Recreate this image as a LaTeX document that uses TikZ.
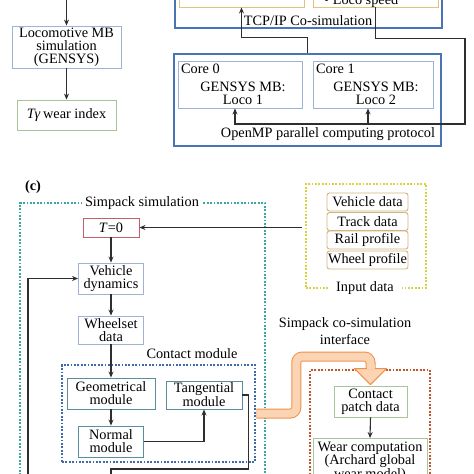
\documentclass[tikz,border=0pt]{standalone}
\usepackage{fontspec}
\setmainfont{Liberation Serif}
\usetikzlibrary{arrows.meta}

\definecolor{softblue}{HTML}{9FB3D6}
\definecolor{softgreen}{HTML}{A8C49A}
\definecolor{tcpblue}{HTML}{4A74B5}
\definecolor{sand}{HTML}{E2C27E}
\definecolor{rosered}{HTML}{C2606A}
\definecolor{tealblue}{HTML}{5B8E9C}
\definecolor{simteal}{HTML}{3AA7A3}
\definecolor{contblue}{HTML}{3E6AAB}
\definecolor{inyellow}{HTML}{D6D33E}
\definecolor{tanbox}{HTML}{D1B57E}
\definecolor{wearred}{HTML}{C0552D}
\definecolor{bandedge}{HTML}{F0904A}
\definecolor{bandfill}{HTML}{FBD4B4}
\definecolor{linkgray}{HTML}{2E2E2E}

\begin{document}
\begin{tikzpicture}[x=1pt, y=-1pt, >={Stealth[length=6pt,width=5pt]},
    txt/.style={font=\fontsize{14.3}{13}\selectfont, inner sep=0pt, align=center},
    box/.style={txt, draw=#1, line width=0.9pt, fill=white},
    dotbox/.style={draw=#1, line width=2.6pt, dash pattern=on 1.8pt off 1.6pt, inner sep=0pt},
    solidbox/.style={draw=tcpblue, line width=1.4pt, inner sep=0pt},
    link/.style={draw=linkgray, line width=1.1pt},
    band/.style={draw=bandedge, double=bandfill, double distance=8pt, line width=1pt, rounded corners=6pt}]
    \useasboundingbox (0,0) rectangle (474,474);
    \clip (0,0) rectangle (474,474);

    % Locomotive simulation
    \coordinate (locoIn) at (66.5,0);
    \node[box=softblue, minimum width=109, minimum height=42] (loco) at (66.5,47) {Locomotive MB\\simulation\\(GENSYS)};
    \node[box=softgreen, minimum width=99, minimum height=30] (twear) at (66.5,115) {\textit{Tγ}\,wear index};
    \draw[link,->] (locoIn) -- (loco.north);
    \draw[link,->] (loco.south) -- (twear.north);

    % TCP/IP co-simulation
    \node[solidbox, minimum width=267, minimum height=68] (tcp) at (308.5,-6) {};
    \node[box=sand, minimum width=125, minimum height=38] (ybox1) at (241.5,-12) {};
    \node[box=sand, minimum width=125, minimum height=38] (ybox2) at (375.5,-12) {};
    \node[txt, anchor=base west] (speed) at (324,4) {\textbullet\ Loco speed};
    \node[txt, anchor=base] (tcplbl) at (308,25) {TCP/IP Co-simulation};

    % OpenMP cores
    \node[solidbox, minimum width=267, minimum height=92] (omp) at (307.5,100) {};
    \node[box=softblue, minimum width=124, minimum height=47] (core0) at (240,84.5) {};
    \node[box=softblue, minimum width=120, minimum height=47] (core1) at (373,84.5) {};
    \node[txt, anchor=base west] (core0lbl) at (181,73) {Core 0};
    \node[txt, anchor=base west] (core1lbl) at (316,73) {Core 1};
    \node[txt] (core0txt) at (243,93) {GENSYS MB:\\Loco 1};
    \node[txt] (core1txt) at (376,93) {GENSYS MB:\\Loco 2};
    \node[txt, anchor=base] (omplbl) at (328,137) {OpenMP parallel computing protocol};

    \coordinate (bus) at (465,124);
    \coordinate (c0in) at ([xshift=-5pt]core0.south);
    \coordinate (c1in) at ([xshift=-5pt]core1.south);
    \draw[link,->] (omp.north) -- ++(0,-16) -| (ybox1.south);
    \draw[link,->] (ybox2.south) -- ++(0,31) -| (bus) -| (c0in);
    \draw[link,->] (c1in |- bus) -- (c1in);

    % (c) Simpack simulation
    \node[txt, font=\fontsize{14.3}{13}\selectfont\bfseries] (tagc) at (33,187) {(c)};
    \node[dotbox=simteal, minimum width=245, minimum height=297] (simbox) at (142.5,351.5) {};
    \node[txt, fill=white, inner xsep=3pt, inner ysep=1pt] (simlbl) at (142,203) {Simpack simulation};
    \node[box=rosered, minimum width=56, minimum height=19] (t0) at (111,227.5) {\textit{T}=0};
    \node[box=softblue, minimum width=65, minimum height=31] (vdyn) at (111,278.5) {Vehicle\\dynamics};
    \node[box=softblue, minimum width=65, minimum height=28] (wdata) at (111,330) {Wheelset\\data};

    % Contact module
    \node[dotbox=contblue, minimum width=193, minimum height=97] (cbox) at (158.5,413.5) {};
    \node[txt] (cboxlbl) at (192,354) {Contact module};
    \node[box=tealblue, minimum width=88, minimum height=31] (geo) at (111,393.5) {Geometrical\\module};
    \node[box=tealblue, minimum width=76, minimum height=28] (tang) at (204,395) {Tangential\\module};
    \node[box=tealblue, minimum width=65, minimum height=31] (norm) at (111,441.5) {Normal\\module};

    % Input data
    \node[dotbox=inyellow, minimum width=120, minimum height=104] (inbox) at (366,236) {};
    \node[txt, fill=white, inner xsep=8pt, inner ysep=1pt] (inlbl) at (365,288) {Input data};
    \foreach \name/\y/\label in {vehdata/202/Vehicle data, trackdata/221.5/Track data, railprof/240/Rail profile, wheelprof/260/Wheel profile}
        \node[box=tanbox, rounded corners=2.5pt, minimum width=81, minimum height=18] (\name) at (367.5,\y) {\label};

    % Wear computation
    \node[dotbox=wearred, minimum width=120, minimum height=130] (wbox) at (370,435) {};
    \node[box=softgreen, minimum width=73, minimum height=31] (cpatch) at (370.5,401.5) {Contact\\patch data};
    \node[box=softgreen, minimum width=114, minimum height=47] (wear) at (370,462) {Wear computation\\(Archard global\\wear model)};
    \node[txt, font=\fontsize{14.3}{17}\selectfont] (cosimlbl) at (345,331) {Simpack co-simulation\\interface};

    % Connectors
    \coordinate (inlink) at (302,227.5);
    \coordinate (loopBend) at (111,469);
    \coordinate (loopOut) at (111,480);
    \coordinate (loopIn) at (28,480);
    \draw[link,->] (inlink) -- (t0.east);
    \draw[link,->] (t0.south) -- (vdyn.north);
    \draw[link,->] (vdyn.south) -- (wdata.north);
    \draw[link,->] (wdata.south) -- (geo.north);
    \draw[link,->] (geo.south) -- (norm.north);
    \draw[link,->] (norm.east) -| (tang.south);
    \draw[link] (tang.east) -- ++(6,0) |- (loopBend) -- (loopOut);
    \draw[link,->] (loopIn) |- (vdyn.west);
    \draw[link,->] (cpatch.south) -- (wear.north);

    % Co-simulation band
    \path (cpatch.north) ++(0,-29) coordinate (bandTop);
    \draw[band] (cbox.east) -- ++(40,0) |- (bandTop) -- ++(0,12);
    \filldraw[draw=bandedge, fill=bandfill, line width=1pt, line join=round] (cpatch.north) ++(0,-1) -- ++(-16,-16) -- ++(32,0) -- cycle;
    \fill[bandfill] (bandTop) ++(-4,8) rectangle ++(8,4.6);
\end{tikzpicture}
\end{document}
